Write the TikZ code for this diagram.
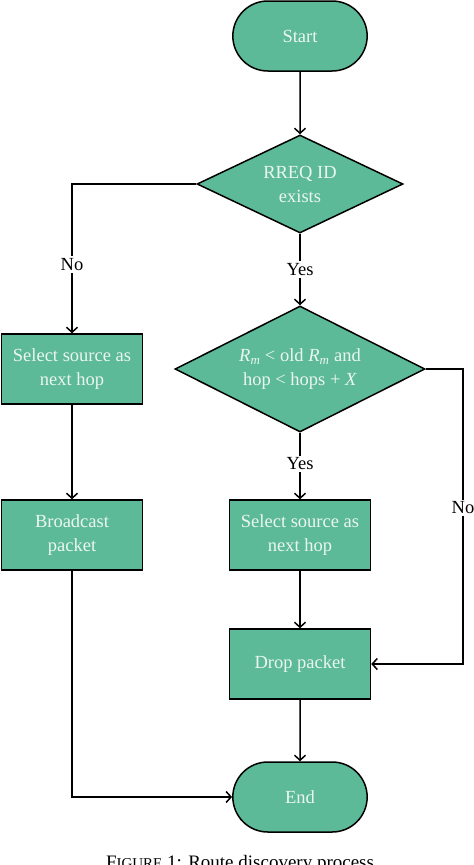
\documentclass[tikz,border=0pt]{standalone}
\usepackage{fontspec}
\setmainfont{Liberation Serif}
\usetikzlibrary{shapes.geometric,shapes.misc,arrows.meta}
\tikzset{>={Straight Barb[length=5pt,width=11pt]}}
\definecolor{flowgreen}{RGB}{92,186,152}
\definecolor{boxtext}{RGB}{236,246,240}
\newcommand{\Rm}{\textit{R}\textsubscript{\textit{m}}}

\begin{document}
\begin{tikzpicture}[x=1pt,y=-1pt,line width=1.5pt,
  every node/.style={font=\fontsize{18.5}{24}\selectfont},
  term/.style={rounded rectangle,draw,fill=flowgreen,text=boxtext,minimum width=141pt,minimum height=70pt},
  proc/.style={rectangle,draw,fill=flowgreen,text=boxtext,align=center,minimum width=141pt,minimum height=70pt,inner sep=0pt},
  test/.style={diamond,draw,fill=flowgreen,text=boxtext,align=center,inner sep=0pt,shape aspect=2},
  lab/.style={fill=white,inner sep=2pt,text=black}]
\useasboundingbox (0,0) rectangle (474,865);
\node[term] (start) at (300,36) {Start};
\node[test,minimum width=206pt,minimum height=98pt] (rreq) at (300,184) {RREQ ID\\exists};
\node[test,minimum width=250pt,minimum height=126pt] (cond) at (300,369) {\Rm{} < old \Rm{} and\\hop < hops + \textit{X}};
\node[proc] (selL) at (72,369) {Select source as\\next hop};
\node[proc] (bcast) at (72,535) {Broadcast\\packet};
\node[proc] (selR) at (300,535) {Select source as\\next hop};
\node[proc] (drop) at (300,664) {Drop packet};
\node[term] (finish) at (300,797) {End};
\coordinate (cL) at (72,184);
\coordinate (cR) at (463,369);
\coordinate (cD) at (463,664);
\coordinate (cB) at (72,797);
\draw[->] (start) -- (rreq);
\draw[->] (rreq) -- node[lab,pos=0.5] {Yes} (cond);
\draw[->] (rreq.west) -- (cL) -- node[lab,pos=0.54] {No} (selL);
\draw[->] (selL) -- (bcast);
\draw[->] (cond) -- node[lab,pos=0.47] {Yes} (selR);
\draw[->] (cond.east) -- (cR) -- node[lab,pos=0.47] {No} (cD) -- (drop.east);
\draw[->] (selR) -- (drop);
\draw[->] (drop) -- (finish);
\draw[->] (bcast) -- (cB) -- (finish.west);
\node[anchor=north,inner sep=0pt,font=\fontsize{19}{21}\selectfont] (caption) at (240,855) {F{\fontsize{15}{17}\selectfont IGURE} 1: Route discovery process};
\end{tikzpicture}
\end{document}
